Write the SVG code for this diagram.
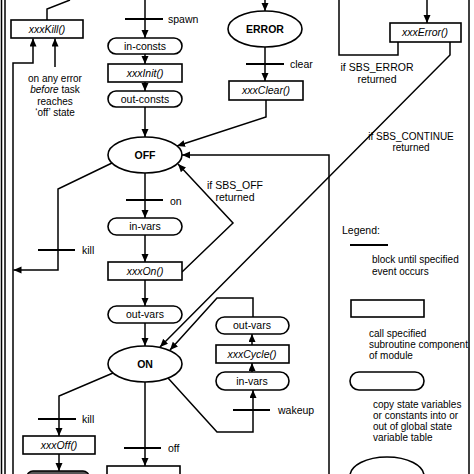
<svg xmlns="http://www.w3.org/2000/svg" width="474" height="474" viewBox="0 0 474 474">
<defs>
<marker id="ah" markerUnits="userSpaceOnUse" markerWidth="9" markerHeight="8" refX="8" refY="3.5" orient="auto"><path d="M0,0 L8,3.5 L0,7 z" fill="#000"/></marker>
<style>
.ln{fill:none;stroke:#000;stroke-width:1.5}
.ar{fill:none;stroke:#000;stroke-width:1.5;marker-end:url(#ah)}
.bar{stroke:#000;stroke-width:1.8}
.shp{fill:#fff;stroke:#000;stroke-width:1.6}
text{font-family:"Liberation Sans",Arial,sans-serif;font-size:10.5px;fill:#000}
.m{font-size:10px}
.c{text-anchor:middle}
.i{font-style:italic}
.b{font-weight:bold}
</style>
</defs>
<rect width="474" height="474" fill="#fff"/>
<g id="connectors">
<line class="ln" x1="1.5" y1="0" x2="1.5" y2="474"/>
<line class="ln" x1="5" y1="0" x2="5" y2="474"/>
<line class="ln" x1="469" y1="0" x2="469" y2="474"/>
<polyline class="ar" points="13,474 13,63 33,63 33,38.5"/>
<line class="ar" x1="55" y1="67" x2="55" y2="38.5"/>
<polyline class="ln" points="47,20 47,9 70,0"/>
<line class="ar" x1="145" y1="0" x2="145" y2="38"/>
<line class="ar" x1="145" y1="54" x2="145" y2="64"/>
<line class="ar" x1="145" y1="82" x2="145" y2="91"/>
<line class="ar" x1="145" y1="107" x2="145" y2="137"/>
<line class="ar" x1="145" y1="173" x2="145" y2="218"/>
<line class="ar" x1="145" y1="235" x2="145" y2="262"/>
<line class="ar" x1="145" y1="280" x2="145" y2="306"/>
<line class="ar" x1="145" y1="323" x2="145" y2="346"/>
<line class="ar" x1="145" y1="382" x2="145" y2="466"/>
<line class="ar" x1="265" y1="0" x2="265" y2="11"/>
<line class="ar" x1="265" y1="47" x2="265" y2="81"/>
<polyline class="ar" points="266,100 266,117 177,146"/>
<polyline class="ar" points="182,272 233,223 178,164"/>
<polyline class="ar" points="329,474 329,155 182,155"/>
<line class="ar" x1="427" y1="0" x2="427" y2="23"/>
<polyline class="ln" points="339,0 339,55 398,55 398,42"/>
<polyline class="ar" points="450,42 450,55 160,347"/>
<polyline class="ar" points="253,317 253,298 217,298 170,350"/>
<polyline class="ar" points="168,378 217,432 253,432 253,390"/>
<line class="ar" x1="252" y1="345" x2="252" y2="334"/>
<line class="ar" x1="252" y1="372" x2="252" y2="363"/>
<polyline class="ar" points="112,163 58,189 58,270 13.5,270"/>
<polyline class="ar" points="113,373 59,396 59,436"/>
<line class="ar" x1="59" y1="454" x2="59" y2="471"/>
<line class="bar" x1="125" y1="19" x2="163" y2="19"/>
<line class="bar" x1="246" y1="64" x2="284" y2="64"/>
<line class="bar" x1="126" y1="200" x2="163" y2="200"/>
<line class="bar" x1="38" y1="250" x2="75" y2="250"/>
<line class="bar" x1="38" y1="419" x2="76" y2="419"/>
<line class="bar" x1="124" y1="448" x2="161" y2="448"/>
<line class="bar" x1="233" y1="410" x2="270" y2="410"/>
</g>
<g id="n-kill"><rect class="shp" x="11" y="20" width="72" height="18"/><text class="c i" x="47" y="33">xxxKill()</text></g>
<g id="n-inconsts"><rect class="shp" x="108" y="38" width="74" height="16" rx="8"/><text class="c" x="145" y="50">in-consts</text></g>
<g id="n-init"><rect class="shp" x="108" y="64" width="74" height="18"/><text class="c i" x="145" y="77">xxxInit()</text></g>
<g id="n-outconsts"><rect class="shp" x="108" y="91" width="74" height="16" rx="8"/><text class="c" x="145" y="103">out-consts</text></g>
<g id="n-off"><ellipse class="shp" cx="145" cy="155" rx="37" ry="18"/><text class="c b" x="145" y="159">OFF</text></g>
<g id="n-invars"><rect class="shp" x="108" y="218" width="74" height="17" rx="8.5"/><text class="c" x="145" y="230">in-vars</text></g>
<g id="n-on-call"><rect class="shp" x="108" y="262" width="74" height="18"/><text class="c i" x="145" y="275">xxxOn()</text></g>
<g id="n-outvars"><rect class="shp" x="108" y="306" width="74" height="17" rx="8.5"/><text class="c" x="145" y="318">out-vars</text></g>
<g id="n-on"><ellipse class="shp" cx="145" cy="364" rx="37" ry="18"/><text class="c b" x="145" y="368">ON</text></g>
<g id="n-bottom"><rect class="shp" x="107" y="466" width="73" height="20"/></g>
<g id="n-error"><ellipse class="shp" cx="265" cy="29" rx="37" ry="18"/><text class="c b" x="265" y="33">ERROR</text></g>
<g id="n-clear"><rect class="shp" x="229" y="81" width="74" height="19"/><text class="c i" x="266" y="94">xxxClear()</text></g>
<g id="n-errorcall"><rect class="shp" x="390" y="23" width="71" height="19"/><text class="c i" x="425" y="36">xxxError()</text></g>
<g id="n-coutvars"><rect class="shp" x="216" y="317" width="73" height="17" rx="8.5"/><text class="c" x="252" y="329">out-vars</text></g>
<g id="n-cycle"><rect class="shp" x="216" y="345" width="73" height="18"/><text class="c i" x="252" y="358">xxxCycle()</text></g>
<g id="n-cinvars"><rect class="shp" x="216" y="372" width="73" height="18" rx="9"/><text class="c" x="252" y="385">in-vars</text></g>
<g id="n-offcall"><rect class="shp" x="23" y="436" width="72" height="18"/><text class="c i" x="59" y="449">xxxOff()</text></g>
<g id="n-dark"><rect x="27" y="471" width="62" height="20" rx="6" fill="#555" stroke="#000" stroke-width="1.5"/></g>
<g id="labels">
<text x="168" y="23">spawn</text>
<text x="290" y="68">clear</text>
<text x="170" y="205">on</text>
<text x="82" y="254">kill</text>
<text x="82" y="423">kill</text>
<text x="168" y="452">off</text>
<text x="278" y="414">wakeup</text>
<text class="c m" x="55" y="82.2">on any error</text>
<text class="c m" x="55" y="93.4"><tspan class="i">before</tspan> task</text>
<text class="c m" x="55" y="104.6">reaches</text>
<text class="c m" x="55" y="115.8">‘off’ state</text>
<text class="c" x="377" y="71">if SBS_ERROR</text>
<text class="c" x="377" y="83">returned</text>
<text class="c m" x="411" y="139.5">if SBS_CONTINUE</text>
<text class="c m" x="411" y="150.8">returned</text>
<text class="c" x="235" y="189">if SBS_OFF</text>
<text class="c" x="235" y="201">returned</text>
</g>
<g id="legend">
<text x="342" y="234">Legend:</text>
<line class="bar" x1="350" y1="245" x2="388" y2="245"/>
<text class="m" x="372" y="263.3">block until specified</text>
<text class="m" x="372" y="274.5">event occurs</text>
<rect class="shp" x="351" y="300" width="73" height="17"/>
<text class="m" x="369" y="336.8">call specified</text>
<text class="m" x="369" y="348">subroutine component</text>
<text class="m" x="369" y="359.2">of module</text>
<rect class="shp" x="350" y="372" width="74" height="18" rx="9"/>
<text class="m" x="373" y="407.7">copy state variables</text>
<text class="m" x="373" y="418.9">or constants into or</text>
<text class="m" x="373" y="430.1">out of global state</text>
<text class="m" x="373" y="441.3">variable table</text>
<ellipse class="shp" cx="387" cy="476" rx="37" ry="19"/>
</g>
</svg>
